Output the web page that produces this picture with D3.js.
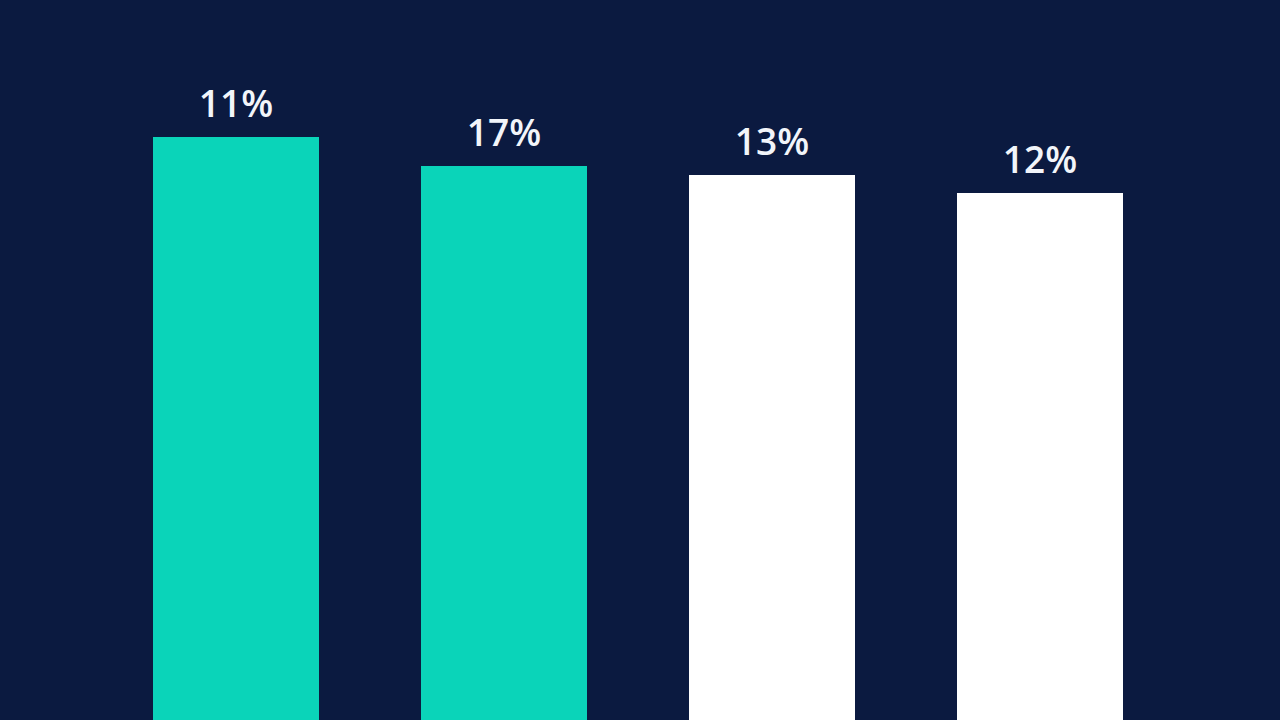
<!DOCTYPE html>
<html><head><meta charset="utf-8">
<script src="https://cdn.jsdelivr.net/npm/d3@7"></script>
<style>html,body{margin:0;padding:0;background:#0b1a40;overflow:hidden}</style>
</head><body>
<svg id="c" width="1280" height="720"></svg>
<script>
const categories = ["A", "B", "C", "D"];
const barValues = [11.66, 11.08, 10.9, 10.54];
const labels = ["11%", "17%", "13%", "12%"];
const barColors = ["#0ad4b9", "#0ad4b9", "#ffffff", "#ffffff"];

const svg = d3.select("#c");
svg.append("rect").attr("width",1280).attr("height",720).attr("fill","#0b1a40");

const x = d3.scaleBand().domain(categories).range([153, 1123]).paddingInner(102/268).paddingOuter(0);
const y = d3.scaleLinear().domain([0, 12]).range([720, 120]);

const data = categories.map((c,i)=>({c, v:barValues[i], l:labels[i], col:barColors[i]}));

svg.selectAll("rect.bar").data(data).join("rect").attr("class","bar")
  .attr("x", d=>x(d.c)).attr("width", x.bandwidth())
  .attr("y", d=>y(d.v)).attr("height", d=>740 - y(d.v))
  .attr("fill", d=>d.col);

svg.selectAll("text.lbl").data(data).join("text").attr("class","lbl")
  .attr("x", d=>x(d.c)+x.bandwidth()/2).attr("y", d=>y(d.v)-20)
  .attr("text-anchor","middle")
  .attr("font-family","'Open Sans', 'Noto Sans', sans-serif")
  .attr("font-weight",600).attr("font-size",37)
  .attr("fill","#f2f5fa")
  .text(d=>d.l);
</script>
</body></html>
